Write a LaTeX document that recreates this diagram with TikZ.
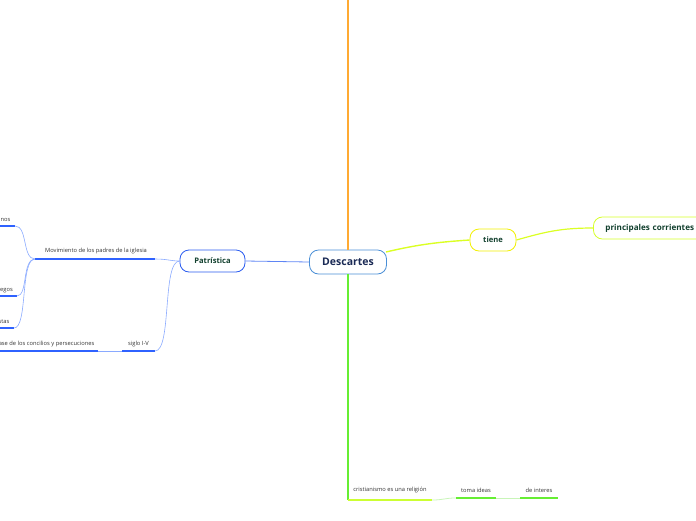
\documentclass[tikz,border=0pt]{standalone}
\usepackage{fontspec}
\setmainfont{Open Sans}
\definecolor{navy}{HTML}{1A2A55}
\definecolor{dgreen}{HTML}{12402E}
\definecolor{nodeblue}{HTML}{4A8FD6}
\definecolor{pblue}{HTML}{2A5CF0}
\definecolor{lblue}{HTML}{8AAAFF}
\definecolor{ublue}{HTML}{2F62FF}
\definecolor{orng}{HTML}{FFAA33}
\definecolor{grn}{HTML}{66EE33}
\definecolor{lime}{HTML}{CCFF33}
\definecolor{ylw}{HTML}{F2F000}
\definecolor{lgrn}{HTML}{C8F5B8}
\begin{document}
\begin{tikzpicture}[x=1pt,y=-1pt,
  small/.style={font=\fontsize{5.75}{6.5}\selectfont, text=black!80, inner sep=0pt},
  under/.style={line width=1.4pt, ublue},
  thinb/.style={line width=0.6pt, lblue},
  topic/.style={rounded corners=9pt, draw, line width=0.8pt, fill=white, font=\bfseries}]
\useasboundingbox (0,0) rectangle (696,520);
\clip (0,0) rectangle (696,520);
% main branches
\coordinate (top) at (348,0);
\coordinate (bot) at (348,500);
\node[topic, draw=nodeblue, text=navy, minimum width=77pt, minimum height=24pt, font=\fontsize{10.5}{12}\selectfont\bfseries] (des) at (348,262) {Descartes};
\draw[orng, line width=1.8pt] (top) -- (des.north);
\draw[grn, line width=1.5pt] (des.south) -- (bot);
% cristianismo
\coordinate (c2) at (432,500);
\coordinate (t1) at (456,498);
\coordinate (t2) at (496,498);
\coordinate (d1) at (520,498);
\coordinate (d2) at (558,498);
\draw[lime, line width=1.4pt] (bot) -- (c2);
\draw[lgrn, line width=0.8pt] (c2) .. controls (444,500) and (444,498) .. (t1);
\draw[grn, line width=1.4pt] (t1) -- (t2);
\draw[lgrn, line width=0.8pt] (t2) -- (d1);
\draw[grn, line width=1.4pt] (d1) -- (d2);
\node[small, anchor=base] (cr) at (390,491.5) {cristianismo es una religión};
\node[small, anchor=base] (ti) at (476,492) {toma ideas};
\node[small, anchor=base] (di) at (539,492) {de interes};
% yellow branch
\node[topic, draw=ylw, text=dgreen, minimum width=46pt, minimum height=22pt, font=\fontsize{7.6}{9}\selectfont\bfseries] (tiene) at (493,240) {tiene};
\node[topic, draw=lime!80!yellow, text=dgreen, minimum width=160pt, minimum height=22pt, anchor=west, font=\fontsize{8.1}{9}\selectfont\bfseries, text width=150pt, inner xsep=12pt, align=left] (pc) at (593,228) {principales corrientes filosóficas};
\draw[lime!70!yellow, line width=1.4pt] (386,252) .. controls (420,244) and (440,242) .. (tiene.west);
\draw[lime!70!yellow, line width=1.2pt] (tiene.east) .. controls (545,232) and (560,228) .. (pc.west);
% Patristica
\node[topic, draw=pblue, text=dgreen, minimum width=65pt, minimum height=22pt, font=\fontsize{7.6}{9}\selectfont\bfseries] (pat) at (212.5,261) {Patrística};
\draw[pblue!75!white, line width=0.8pt] (des.west) -- (pat.east);
% Movimiento
\coordinate (m1) at (35,259);
\coordinate (m2) at (155,259);
\draw[under] (m1) -- (m2);
\draw[thinb] (m2) .. controls (168,259) and (170,261) .. (pat.west);
\node[small, anchor=base] (mov) at (96,252) {Movimiento de los padres de la iglesia};
% sub items
\coordinate (a2) at (15,226);
\coordinate (b2) at (17,296);
\coordinate (e2) at (14,328);
\draw[under] (0,226) -- (a2);
\draw[under] (0,296) -- (b2);
\draw[under] (0,328) -- (e2);
\draw[thinb] (a2) .. controls (28,226) and (22,259) .. (m1);
\draw[thinb] (b2) .. controls (28,296) and (22,259) .. (m1);
\draw[thinb] (e2) .. controls (28,328) and (20,259) .. (m1);
\node[small, anchor=base east] (pl) at (10.5,221) {Padres latinos};
\node[small, anchor=base east] (pg) at (13,291) {Padres griegos};
\node[small, anchor=base east] (ap) at (9.5,323) {Apologistas};
% siglo
\coordinate (s1) at (122,351);
\coordinate (s2) at (155,351);
\coordinate (f2) at (98,351);
\draw[under] (s1) -- (s2);
\draw[thinb] (s2) .. controls (172,351) and (162,261) .. (pat.west);
\node[small, anchor=base] (sig) at (138.5,345.5) {siglo I-V};
\draw[thinb] (f2) -- (s1);
\draw[under] (0,351) -- (f2);
\node[small, anchor=base east] (fa) at (94.5,345.5) {Fase de los concilios y persecuciones};
\end{tikzpicture}
\end{document}
